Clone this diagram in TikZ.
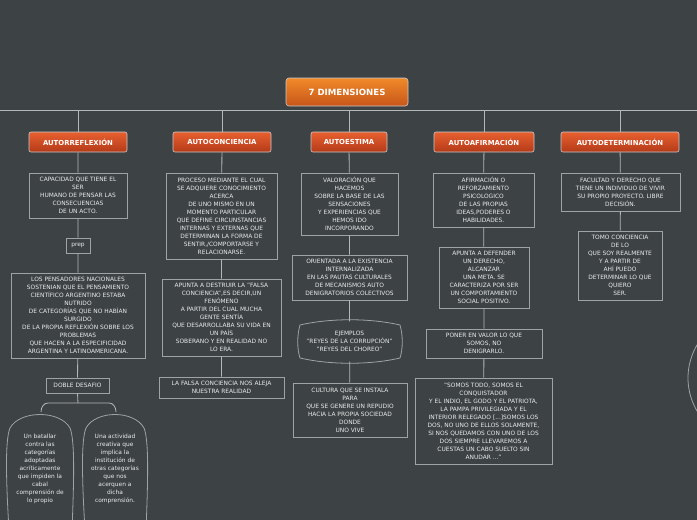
\documentclass[tikz,border=0pt]{standalone}
\usepackage{fontspec}
\setmainfont{DejaVu Sans}
\definecolor{bg}{HTML}{3D4244}
\definecolor{ln}{HTML}{B4B8B8}
\definecolor{bx}{HTML}{9EA3A3}
\definecolor{orT}{HTML}{F08A2A}
\definecolor{orB}{HTML}{C7561A}
\definecolor{rdT}{HTML}{E86030}
\definecolor{rdB}{HTML}{B33A18}
\begin{document}
\begin{tikzpicture}[x=1pt,y=-1pt,
  txt/.style={text=white!92!black,font=\fontsize{5.9}{8}\selectfont,align=center,inner sep=0pt},
  bbox/.style={txt,draw=bx,line width=0.8pt,fill=bg},
  cat/.style={draw=white!80!black,line width=0.6pt,rounded corners=2pt,top color=rdT,bottom color=rdB,text=white,font=\bfseries\fontsize{6.9}{8}\selectfont,inner sep=0pt,minimum height=20pt},
  conn/.style={draw=ln,line width=0.8pt}]
\fill[bg] (0,0) rectangle (697,520);
\useasboundingbox (0,0) rectangle (697,520);
\newcommand{\bxat}[6]{% name, x1,y1,x2,y2,text
  \node[bbox,minimum width=#4-#2,minimum height=#5-#3] (#1) at ({(#2+#4)/2},{(#3+#5)/2}) {#6};}
% main
\draw[conn] (0,110) -- (697,110);
\node[draw=white!80!black,line width=0.6pt,rounded corners=3pt,top color=orT,bottom color=orB,text=white,font=\bfseries\fontsize{8.6}{9}\selectfont,minimum width=122pt,minimum height=28pt,inner sep=0pt] (main) at (347,92) {7 DIMENSIONES};
\coordinate (c1) at (78,110);\coordinate (c2) at (222,110);\coordinate (c3) at (349,110);\coordinate (c4) at (484,110);\coordinate (c5) at (620,110);
\node[cat,minimum width=98pt] (a1) at (78,142) {AUTORREFLEXIÓN};
\node[cat,minimum width=98pt] (a2) at (222,142) {AUTOCONCIENCIA};
\node[cat,minimum width=76pt] (a3) at (349,142) {AUTOESTIMA};
\node[cat,minimum width=100pt] (a4) at (484,142) {AUTOAFIRMACIÓN};
\node[cat,minimum width=118pt] (a5) at (620,142) {AUTODETERMINACIÓN};
\foreach \i in {1,...,5} \draw[conn] (c\i) -- (a\i);
% col1
\bxat{b11}{29}{173}{127}{218}{CAPACIDAD QUE TIENE EL\\SER\\HUMANO DE PENSAR LAS\\CONSECUENCIAS\\DE UN ACTO.}
\bxat{b12}{66}{238}{90}{253}{prep}
\bxat{b13}{11}{273}{145}{358}{LOS PENSADORES NACIONALES\\SOSTENIAN QUE EL PENSAMIENTO\\CIENTÍFICO ARGENTINO ESTABA\\NUTRIDO\\DE CATEGORÍAS QUE NO HABÍAN\\SURGIDO\\DE LA PROPIA REFLEXIÓN SOBRE LOS\\PROBLEMAS\\QUE HACEN A LA ESPECIFICIDAD\\ARGENTINA Y LATINOAMERICANA.}
\bxat{b14}{46}{378}{109}{393}{DOBLE DESAFIO}
\draw[conn] (a1)--(b11)--(b12)--(b13)--(b14);
\coordinate (br) at (78,403);
\draw[conn] (b14.south) -- (br);
\draw[conn] (br) -- (48,403) to[out=180,in=90] (41,412);
\draw[conn] (br) -- (109,403) to[out=0,in=90] (116,412);
\draw[bx,line width=0.8pt,fill=bg] (9,530) .. controls (6,480) and (5,440) .. (10,428) .. controls (20,410) and (60,410) .. (70,428) .. controls (75,440) and (74,480) .. (72,530);
\draw[bx,line width=0.8pt,fill=bg] (85,530) .. controls (82,480) and (81,440) .. (86,428) .. controls (96,410) and (134,410) .. (144,428) .. controls (149,440) and (148,480) .. (146,530);
\node[txt] (o1) at (40,469) {Un batallar\\contra las\\categorías\\adoptadas\\acríticamente\\que impiden la\\cabal\\comprensión de\\lo propio};
\node[txt] (o2) at (115,469) {Una actividad\\creativa que\\implica la\\institución de\\otras categorías\\que nos\\acerquen a\\dicha\\comprensión.};
% col2
\bxat{b21}{166}{173}{277}{259}{PROCESO MEDIANTE EL CUAL\\SE ADQUIERE CONOCIMIENTO\\ACERCA\\DE UNO MISMO EN UN\\MOMENTO PARTICULAR\\QUE DEFINE CIRCUNSTANCIAS\\INTERNAS Y EXTERNAS QUE\\DETERMINAN LA FORMA DE\\SENTIR,/COMPORTARSE Y\\RELACIONARSE.}
\bxat{b22}{162}{279}{281}{356}{APUNTA A DESTRUIR LA "FALSA\\CONCIENCIA",ES DECIR,UN\\FENÓMENO\\A PARTIR DEL CUAL MUCHA\\GENTE SENTÍA\\QUE DESARROLLABA SU VIDA EN\\UN PAÍS\\SOBERANO Y EN REALIDAD NO\\LO ERA.}
\bxat{b23}{159}{377}{284}{398}{LA FALSA CONCIENCIA NOS ALEJA\\NUESTRA REALIDAD}
\draw[conn] (a2)--(b21)--(b22)--(b23);
% col3
\bxat{b31}{301}{173}{398}{235}{VALORACIÓN QUE\\HACEMOS\\SOBRE LA BASE DE LAS\\SENSACIONES\\Y EXPERIENCIAS QUE\\HEMOS IDO\\INCORPORANDO}
\bxat{b32}{292}{255}{407}{300}{ORIENTADA A LA EXISTENCIA\\INTERNALIZADA\\EN LAS PAUTAS CULTURALES\\DE MECANISMOS AUTO\\DENIGRATORIOS COLECTIVOS}
\draw[bx,line width=0.8pt,fill=bg] (300,325) .. controls (330,318) and (370,318) .. (400,325) .. controls (403,335) and (403,349) .. (400,358) .. controls (370,365) and (330,365) .. (300,358) .. controls (297,349) and (297,335) .. (300,325) -- cycle;
\node[txt,minimum width=105pt,minimum height=40pt] (b33) at (349.5,341.5) {EJEMPLOS\\"REYES DE LA CORRUPCIÓN"\\"REYES DEL CHOREO"};
\bxat{b34}{293}{383}{407}{437}{CULTURA QUE SE INSTALA\\PARA\\QUE SE GENERE UN REPUDIO\\HACIA LA PROPIA SOCIEDAD\\DONDE\\UNO VIVE}
\draw[conn] (a3)--(b31)--(b32)--(b33)--(b34);
% col4
\bxat{b41}{433}{173}{534}{227}{AFIRMACIÓN O\\REFORZAMIENTO\\PSICOLOGICO\\DE LAS PROPIAS\\IDEAS,PODERES O\\HABILIDADES.}
\bxat{b42}{439}{247}{529}{308}{APUNTA A DEFENDER\\UN DERECHO,\\ALCANZAR\\UNA META. SE\\CARACTERIZA POR SER\\UN COMPORTAMIENTO\\SOCIAL POSITIVO.}
\bxat{b43}{426}{329}{542}{358}{PONER EN VALOR LO QUE\\SOMOS, NO\\DENIGRARLO.}
\bxat{b44}{415}{378}{552}{464}{"SOMOS TODO, SOMOS EL\\CONQUISTADOR\\Y EL INDIO, EL GODO Y EL PATRIOTA,\\LA PAMPA PRIVILEGIADA Y EL\\INTERIOR RELEGADO [...]SOMOS LOS\\DOS, NO UNO DE ELLOS SOLAMENTE,\\SI NOS QUEDAMOS CON UNO DE LOS\\DOS SIEMPRE LLEVAREMOS A\\CUESTAS UN CABO SUELTO SIN\\ANUDAR ..."}
\draw[conn] (a4)--(b41)--(b42)--(b43)--(b44);
% col5
\bxat{b51}{561}{173}{680}{211}{FACULTAD Y DERECHO QUE\\TIENE UN INDIVIDUO DE VIVIR\\SU PROPIO PROYECTO. LIBRE\\DECISIÓN.}
\bxat{b52}{578}{231}{662}{300}{TOMO CONCIENCIA\\DE LO\\QUE SOY REALMENTE\\Y A PARTIR DE\\AHÍ PUEDO\\DETERMINAR LO QUE\\QUIERO\\SER.}
\draw[conn] (a5)--(b51)--(b52);
\draw[bx,line width=0.8pt] (760,378) ellipse (72 and 68);
\end{tikzpicture}
\end{document}
